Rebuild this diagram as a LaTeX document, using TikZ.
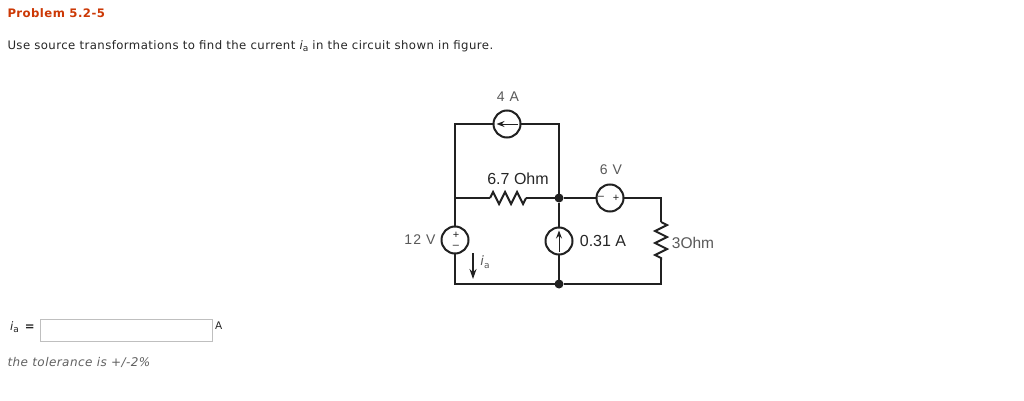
\documentclass[tikz,border=0pt]{standalone}
\usepackage{fontspec}
\setmainfont[LetterSpace=3.7]{DejaVu Sans}
\newfontfamily\circuitfont{Liberation Sans}
\newfontfamily\grayfont[LetterSpace=8]{Liberation Sans}
\usetikzlibrary{positioning, shapes, arrows.meta, decorations.pathmorphing}
\definecolor{titlecolor}{rgb}{0.80,0.22,0.02}
\definecolor{wirecolor}{rgb}{0.13,0.13,0.13}
\definecolor{labelcolor}{rgb}{0.35,0.35,0.35}
\definecolor{boxcolor}{rgb}{0.75,0.75,0.75}
\definecolor{notecolor}{rgb}{0.38,0.38,0.38}
\newcommand{\iacurrent}{{\itshape i}\raisebox{-2.5pt}{\fontsize{9}{10}\selectfont a}}

\begin{document}
\begin{tikzpicture}[x=1pt,y=-1pt]
\tikzstyle{every node}=[inner sep=0pt, outer sep=0pt];
\tikzstyle{wire}=[draw=wirecolor, line width=2pt];
\tikzstyle{source}=[draw=wirecolor, line width=2pt, shape=circle, minimum size=27pt];
\tikzstyle{junction}=[fill=wirecolor, shape=circle, minimum size=9pt];
\tikzstyle{flow}=[draw=wirecolor, line width=1pt, shorten >=3pt, shorten <=3pt, -{Stealth[length=8pt,width=6pt]}];
\tikzstyle{page}=[anchor=west, font=\fontsize{11.7}{13}\selectfont, text=black!85];
\tikzstyle{value}=[font=\circuitfont\fontsize{16}{18}\selectfont, text=black!85];
\tikzstyle{graylabel}=[font=\grayfont\fontsize{14}{16}\selectfont, text=labelcolor];
\tikzstyle{sign}=[font=\circuitfont\fontsize{11}{12}\selectfont, text=wirecolor];
\tikzstyle{resistor}=[wire, decorate, decoration={zigzag, segment length=12pt, amplitude=6pt}];
\useasboundingbox (0,0) rectangle (1024,401);
\fill[white] (0,0) rectangle (1024,401);

\path (7.5,13) node[page, font=\bfseries\fontsize{11.7}{14}\selectfont, text=titlecolor] (title) {Problem 5.2-5};
\path (7.5,46) node[page] (question) {Use source transformations to find the current \iacurrent{} in the circuit shown in figure.};
\path (10,327) node[page] (answer) {\iacurrent{}\hspace{6pt}\textbf{=}};
\path (126,330) node[draw=boxcolor, minimum width=172pt, minimum height=22pt] (inputbox) {};
\path (215,326) node[page, font=\fontsize{10.5}{12}\selectfont] (unit) {A};
\path (7.5,362) node[page, font=\itshape\fontsize{12}{13}\selectfont, text=notecolor] (tolerance) {the tolerance is +/-2\%};

\coordinate (tl) at (455,124);
\coordinate (tr) at (559,124);
\coordinate (ml) at (455,198);
\coordinate (mr) at (661,198);
\coordinate (bl) at (455,284);
\coordinate (br) at (661,284);
\coordinate (ra) at (490,198);
\coordinate (rb) at (526,198);
\coordinate (rc) at (661,222);
\coordinate (rd) at (661,260);
\coordinate (ia1) at (473,253);
\coordinate (ia2) at (473,279);

\path (507,124) node[source] (sA) {};
\path (610,198) node[source] (sB) {};
\path (455,240) node[source] (sC) {};
\path (559,241) node[source] (sD) {};
\path (559,198) node[junction] (jm) {};
\path (559,284) node[junction] (jb) {};

\draw[wire] (ml) -- (tl) -- (sA);
\draw[wire] (sA) -- (tr) -- (jm) -- (sD) -- (jb) -- (bl) -- (sC) -- (ml) -- (ra);
\draw[resistor] (ra) -- (rb);
\draw[wire] (rb) -- (jm) -- (sB) -- (mr) -- (rc);
\draw[resistor] (rc) -- (rd);
\draw[wire] (rd) -- (br) -- (jb);

\draw[flow] (sA.east) -- (sA.west);
\draw[flow] (sD.south) -- (sD.north);
\draw[flow, line width=1.5pt, shorten >=0pt, shorten <=0pt, -{Stealth[length=10pt,width=7pt]}] (ia1) -- (ia2);

\path (456,235) node[sign] (pC) {+};
\path (456,247) node[sign] (mC) {\textendash};
\path (616,198) node[sign] (pB) {+};
\path (601,198) node[sign] (mB) {\textendash};

\path (508,97) node[graylabel] (lA) {4 A};
\path (611,170) node[graylabel] (lB) {6 V};
\path (420,240) node[graylabel] (lC) {12 V};
\path (518,179) node[value] (lR) {6.7 Ohm};
\path (603,241) node[value] (lD) {0.31 A};
\path (693,243) node[value, text=labelcolor, font=\circuitfont\fontsize{15.5}{18}\selectfont] (lE) {3Ohm};
\path (485,262) node[graylabel, font=\fontsize{13}{14}\selectfont] (lI) {\iacurrent};
\end{tikzpicture}
\end{document}
